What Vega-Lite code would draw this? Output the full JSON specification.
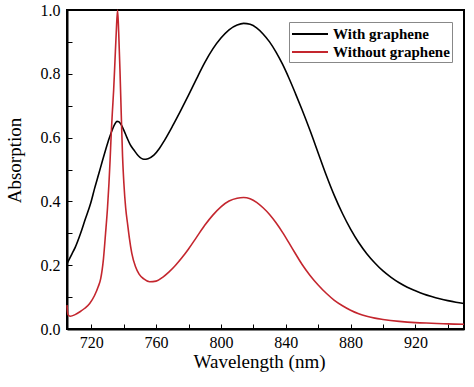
{
  "$schema": "https://vega.github.io/schema/vega-lite/v6.json",
  "width": 397,
  "height": 319,
  "autosize": "none",
  "padding": {"left": 67, "top": 10, "right": 10, "bottom": 58},
  "background": "white",
  "config": {"view": {"stroke": "black", "strokeWidth": 2}},
  "data": {"values": [
    {"w": 705, "a": 0.205, "s": "With graphene"},
    {"w": 708, "a": 0.235, "s": "With graphene"},
    {"w": 710, "a": 0.255, "s": "With graphene"},
    {"w": 713.4, "a": 0.3, "s": "With graphene"},
    {"w": 716, "a": 0.34, "s": "With graphene"},
    {"w": 719.6, "a": 0.394, "s": "With graphene"},
    {"w": 722, "a": 0.44, "s": "With graphene"},
    {"w": 724.7, "a": 0.488, "s": "With graphene"},
    {"w": 727, "a": 0.53, "s": "With graphene"},
    {"w": 728.8, "a": 0.561, "s": "With graphene"},
    {"w": 731, "a": 0.597, "s": "With graphene"},
    {"w": 732.9, "a": 0.624, "s": "With graphene"},
    {"w": 734.5, "a": 0.642, "s": "With graphene"},
    {"w": 735.8, "a": 0.651, "s": "With graphene"},
    {"w": 737, "a": 0.65, "s": "With graphene"},
    {"w": 738.5, "a": 0.64, "s": "With graphene"},
    {"w": 740, "a": 0.624, "s": "With graphene"},
    {"w": 742, "a": 0.6, "s": "With graphene"},
    {"w": 744, "a": 0.578, "s": "With graphene"},
    {"w": 746.3, "a": 0.561, "s": "With graphene"},
    {"w": 749, "a": 0.543, "s": "With graphene"},
    {"w": 752.4, "a": 0.532, "s": "With graphene"},
    {"w": 755, "a": 0.534, "s": "With graphene"},
    {"w": 758.6, "a": 0.545, "s": "With graphene"},
    {"w": 762, "a": 0.566, "s": "With graphene"},
    {"w": 765, "a": 0.59, "s": "With graphene"},
    {"w": 770, "a": 0.635, "s": "With graphene"},
    {"w": 775, "a": 0.683, "s": "With graphene"},
    {"w": 780, "a": 0.733, "s": "With graphene"},
    {"w": 785, "a": 0.785, "s": "With graphene"},
    {"w": 790, "a": 0.835, "s": "With graphene"},
    {"w": 795, "a": 0.878, "s": "With graphene"},
    {"w": 800, "a": 0.912, "s": "With graphene"},
    {"w": 805, "a": 0.938, "s": "With graphene"},
    {"w": 810, "a": 0.953, "s": "With graphene"},
    {"w": 814, "a": 0.958, "s": "With graphene"},
    {"w": 818, "a": 0.955, "s": "With graphene"},
    {"w": 822, "a": 0.944, "s": "With graphene"},
    {"w": 826, "a": 0.925, "s": "With graphene"},
    {"w": 830, "a": 0.9, "s": "With graphene"},
    {"w": 834, "a": 0.868, "s": "With graphene"},
    {"w": 838, "a": 0.83, "s": "With graphene"},
    {"w": 842, "a": 0.786, "s": "With graphene"},
    {"w": 846, "a": 0.738, "s": "With graphene"},
    {"w": 850, "a": 0.688, "s": "With graphene"},
    {"w": 855, "a": 0.622, "s": "With graphene"},
    {"w": 860, "a": 0.552, "s": "With graphene"},
    {"w": 865, "a": 0.482, "s": "With graphene"},
    {"w": 870, "a": 0.418, "s": "With graphene"},
    {"w": 875, "a": 0.362, "s": "With graphene"},
    {"w": 880, "a": 0.313, "s": "With graphene"},
    {"w": 885, "a": 0.271, "s": "With graphene"},
    {"w": 890, "a": 0.236, "s": "With graphene"},
    {"w": 895, "a": 0.207, "s": "With graphene"},
    {"w": 900, "a": 0.182, "s": "With graphene"},
    {"w": 905, "a": 0.162, "s": "With graphene"},
    {"w": 910, "a": 0.145, "s": "With graphene"},
    {"w": 915, "a": 0.131, "s": "With graphene"},
    {"w": 920, "a": 0.12, "s": "With graphene"},
    {"w": 925, "a": 0.11, "s": "With graphene"},
    {"w": 930, "a": 0.102, "s": "With graphene"},
    {"w": 935, "a": 0.095, "s": "With graphene"},
    {"w": 940, "a": 0.089, "s": "With graphene"},
    {"w": 945, "a": 0.084, "s": "With graphene"},
    {"w": 950, "a": 0.08, "s": "With graphene"},
    {"w": 705, "a": 0.075, "s": "Without graphene"},
    {"w": 705.6, "a": 0.045, "s": "Without graphene"},
    {"w": 707, "a": 0.04, "s": "Without graphene"},
    {"w": 710, "a": 0.045, "s": "Without graphene"},
    {"w": 713, "a": 0.054, "s": "Without graphene"},
    {"w": 716, "a": 0.065, "s": "Without graphene"},
    {"w": 719, "a": 0.08, "s": "Without graphene"},
    {"w": 722, "a": 0.105, "s": "Without graphene"},
    {"w": 724.3, "a": 0.133, "s": "Without graphene"},
    {"w": 725.8, "a": 0.158, "s": "Without graphene"},
    {"w": 727.5, "a": 0.22, "s": "Without graphene"},
    {"w": 728.8, "a": 0.3, "s": "Without graphene"},
    {"w": 730, "a": 0.38, "s": "Without graphene"},
    {"w": 730.9, "a": 0.457, "s": "Without graphene"},
    {"w": 731.6, "a": 0.53, "s": "Without graphene"},
    {"w": 732.3, "a": 0.613, "s": "Without graphene"},
    {"w": 733, "a": 0.68, "s": "Without graphene"},
    {"w": 733.8, "a": 0.75, "s": "Without graphene"},
    {"w": 734.6, "a": 0.84, "s": "Without graphene"},
    {"w": 735.4, "a": 0.93, "s": "Without graphene"},
    {"w": 736.2, "a": 1.0, "s": "Without graphene"},
    {"w": 736.9, "a": 0.93, "s": "Without graphene"},
    {"w": 737.7, "a": 0.81, "s": "Without graphene"},
    {"w": 738.5, "a": 0.67, "s": "Without graphene"},
    {"w": 739.3, "a": 0.54, "s": "Without graphene"},
    {"w": 740.1, "a": 0.457, "s": "Without graphene"},
    {"w": 741.2, "a": 0.38, "s": "Without graphene"},
    {"w": 742.5, "a": 0.325, "s": "Without graphene"},
    {"w": 743.5, "a": 0.285, "s": "Without graphene"},
    {"w": 745, "a": 0.237, "s": "Without graphene"},
    {"w": 747.3, "a": 0.195, "s": "Without graphene"},
    {"w": 749.5, "a": 0.172, "s": "Without graphene"},
    {"w": 752.4, "a": 0.157, "s": "Without graphene"},
    {"w": 756, "a": 0.148, "s": "Without graphene"},
    {"w": 760, "a": 0.15, "s": "Without graphene"},
    {"w": 764, "a": 0.162, "s": "Without graphene"},
    {"w": 768, "a": 0.179, "s": "Without graphene"},
    {"w": 772, "a": 0.2, "s": "Without graphene"},
    {"w": 776, "a": 0.224, "s": "Without graphene"},
    {"w": 780, "a": 0.251, "s": "Without graphene"},
    {"w": 785, "a": 0.288, "s": "Without graphene"},
    {"w": 790, "a": 0.325, "s": "Without graphene"},
    {"w": 795, "a": 0.357, "s": "Without graphene"},
    {"w": 800, "a": 0.383, "s": "Without graphene"},
    {"w": 805, "a": 0.401, "s": "Without graphene"},
    {"w": 810, "a": 0.41, "s": "Without graphene"},
    {"w": 814, "a": 0.412, "s": "Without graphene"},
    {"w": 818, "a": 0.408, "s": "Without graphene"},
    {"w": 822, "a": 0.397, "s": "Without graphene"},
    {"w": 826, "a": 0.38, "s": "Without graphene"},
    {"w": 830, "a": 0.359, "s": "Without graphene"},
    {"w": 834, "a": 0.333, "s": "Without graphene"},
    {"w": 838, "a": 0.303, "s": "Without graphene"},
    {"w": 842, "a": 0.27, "s": "Without graphene"},
    {"w": 846, "a": 0.236, "s": "Without graphene"},
    {"w": 850, "a": 0.203, "s": "Without graphene"},
    {"w": 855, "a": 0.168, "s": "Without graphene"},
    {"w": 860, "a": 0.138, "s": "Without graphene"},
    {"w": 865, "a": 0.112, "s": "Without graphene"},
    {"w": 870, "a": 0.09, "s": "Without graphene"},
    {"w": 875, "a": 0.073, "s": "Without graphene"},
    {"w": 880, "a": 0.059, "s": "Without graphene"},
    {"w": 885, "a": 0.048, "s": "Without graphene"},
    {"w": 890, "a": 0.04, "s": "Without graphene"},
    {"w": 895, "a": 0.034, "s": "Without graphene"},
    {"w": 900, "a": 0.03, "s": "Without graphene"},
    {"w": 910, "a": 0.024, "s": "Without graphene"},
    {"w": 920, "a": 0.02, "s": "Without graphene"},
    {"w": 930, "a": 0.018, "s": "Without graphene"},
    {"w": 940, "a": 0.016, "s": "Without graphene"},
    {"w": 950, "a": 0.015, "s": "Without graphene"}
  ]},
  "mark": {"type": "line", "interpolate": "monotone", "strokeWidth": 1.6},
  "encoding": {
    "x": {
      "field": "w", "type": "quantitative",
      "scale": {"domain": [705, 950], "nice": false, "zero": false},
      "axis": {
        "title": "Wavelength (nm)",
        "titleX": 192,
        "titlePadding": 2,
        "titleFont": "Times New Roman",
        "titleFontSize": 19,
        "titleFontWeight": "normal",
        "titleColor": "black",
        "labelFont": "Times New Roman",
        "labelFontSize": 16,
        "labelColor": "black",
        "domain": true,
        "domainColor": "black",
        "domainWidth": 2,
        "tickColor": "black",
        "tickSize": -5,
        "grid": false,
        "values": [720, 740, 760, 780, 800, 820, 840, 860, 880, 900, 920, 940],
        "labelExpr": "datum.value % 40 === 0 ? datum.label : ''",
        "labelPadding": 10
      }
    },
    "y": {
      "field": "a", "type": "quantitative",
      "scale": {"domain": [0, 1], "nice": false},
      "axis": {
        "title": "Absorption",
        "titleY": 150,
        "titlePadding": 16,
        "titleFont": "Times New Roman",
        "titleFontSize": 19,
        "titleFontWeight": "normal",
        "titleColor": "black",
        "labelFont": "Times New Roman",
        "labelFontSize": 16,
        "labelColor": "black",
        "domain": true,
        "domainColor": "black",
        "domainWidth": 2,
        "tickColor": "black",
        "tickSize": -5,
        "grid": false,
        "values": [0, 0.1, 0.2, 0.3, 0.4, 0.5, 0.6, 0.7, 0.8, 0.9, 1.0],
        "labelExpr": "round(datum.value * 10) % 2 === 0 ? format(datum.value, '.1f') : ''",
        "labelPadding": 12
      }
    },
    "color": {
      "field": "s", "type": "nominal",
      "scale": {"domain": ["With graphene", "Without graphene"], "range": ["#000000", "#c4262e"]},
      "legend": {
        "title": null,
        "orient": "top-right",
        "offset": 12,
        "labelFont": "Times New Roman",
        "labelFontSize": 15,
        "labelFontWeight": "bold",
        "labelColor": "black",
        "symbolType": "M-1,0H3",
        "symbolSize": 324,
        "symbolStrokeWidth": 2,
        "labelOffset": 22,
        "rowPadding": 0,
        "padding": 2,
        "strokeColor": "#888888",
        "fillColor": "white"
      }
    }
  }
}
